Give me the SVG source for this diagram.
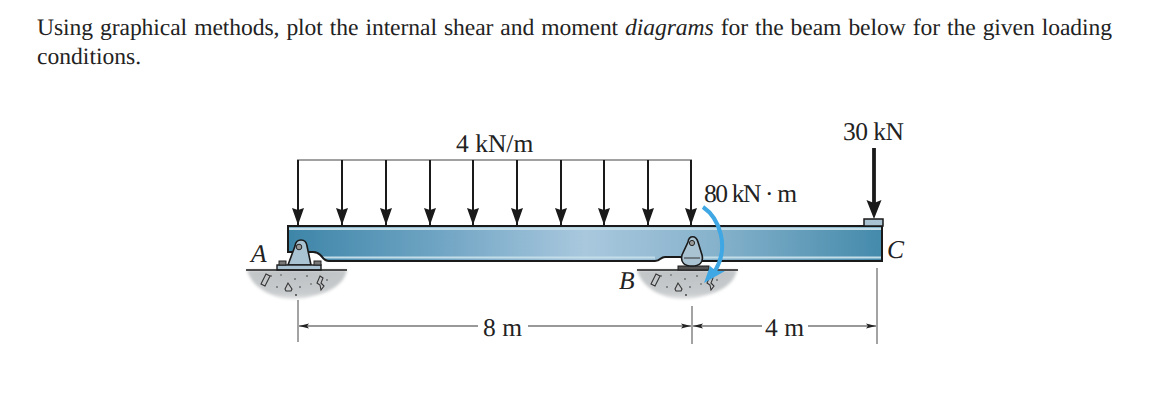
<svg xmlns="http://www.w3.org/2000/svg" width="1150" height="412" viewBox="0 0 1150 412">
<style>
text{font-family:"Liberation Serif","Times New Roman",serif;fill:#222;text-rendering:geometricPrecision}
.p{font-size:23.6px}
.l{font-size:25.5px}
.i{font-style:italic}
.load{stroke:#1a1a1a;stroke-width:2;fill:none;marker-end:url(#ah)}
.dim{stroke:#333;stroke-width:1;fill:none}
.ext{stroke:#666;stroke-width:1.2;fill:none}
.edge{stroke:#1a1a1a;stroke-width:2;fill:none}
.pin{fill:#a9c3d3;stroke:#1a1a1a;stroke-width:1.6}
.rock{fill:none;stroke:#333;stroke-width:1.1}
.dot{fill:#333}
</style>
<defs>
<marker id="ah" markerUnits="userSpaceOnUse" markerWidth="17" markerHeight="13" refX="17" refY="6.5" orient="auto"><path d="M0 .5L17 6.500L0 12.500L2 6.500Z" fill="#1a1a1a"/></marker>
<marker id="dl" markerUnits="userSpaceOnUse" markerWidth="11" markerHeight="6" refX="10" refY="3" orient="auto"><path d="M0 0.5L10 3L0 5.5L2 3Z" fill="#222"/></marker>
<linearGradient id="bm" x1="0" x2="1" y1="0" y2="0">
<stop offset="0" stop-color="#3d85a8"/><stop offset=".25" stop-color="#6fa4c3"/><stop offset=".5" stop-color="#a9c8de"/><stop offset=".72" stop-color="#86b2cb"/><stop offset="1" stop-color="#448aab"/>
</linearGradient>
<radialGradient id="gr" cx=".5" cy="0" r="1"><stop offset="0" stop-color="#bcc0c2"/><stop offset=".8" stop-color="#c8cbcd"/><stop offset="1" stop-color="#dfe1e2"/></radialGradient>
<filter id="soft" x="-10%" y="-10%" width="120%" height="130%"><feGaussianBlur stdDeviation="1.6"/></filter>
<g id="soil">
<path d="M-50 0H50C47 14 34 22 16 26C4 30-14 30-25 25C-38 20-47 11-50 0Z" fill="url(#gr)" filter="url(#soft)"/>
<path class="rock" d="M-31 4l4 2-5 10-4-2Z M-12 19l3-6 4 6-1 2h-5Z M23 6l3 2-2 5 3 3-3 4-1-5-3-2Z"/>
<circle class="dot" cx="-26" cy="6" r=".8"/><circle class="dot" cx="-20" cy="17" r=".8"/><circle class="dot" cx="-2" cy="9" r=".8"/><circle class="dot" cx="3" cy="17" r=".8"/><circle class="dot" cx="10" cy="6" r=".8"/><circle class="dot" cx="-16" cy="5" r=".7"/><circle class="dot" cx="30" cy="10" r=".8"/><circle class="dot" cx="-1" cy="25" r=".9"/><circle class="dot" cx="14" cy="14" r=".7"/>
</g>
</defs>
<rect width="1150" height="412" fill="#fff"/>
<g id="problem-text">
<text class="p" x="37" y="35" textLength="1075" lengthAdjust="spacing" word-spacing="1.2">Using graphical methods, plot the internal shear and moment <tspan class="i">diagrams</tspan> for the beam below for the given loading</text>
<text class="p" x="37" y="64">conditions.</text>
</g>
<g id="support-A-ground"><use href="#soil" x="297" y="270"/></g>
<g id="support-B-ground"><use href="#soil" x="687" y="270"/></g>
<g id="beam">
<path d="M288 226H882V261H702V257H665C660 257 661 261 655 261H329C321 261 323 252 313 252H288Z" fill="url(#bm)"/>
<rect x="289" y="227.5" width="592" height="2.5" fill="#c3dde8"/>
<path d="M322 257.5H655M702 257.5H881" stroke="#c3dde8" stroke-width="2.2"/>
<path class="edge" d="M288 253V226H882V261H702M682 257H665C660 257 661 261 655 261H329C321 261 323 252 313 252H288"/>
<rect x="864" y="219" width="19" height="7" fill="#a9c3d3" stroke="#1a1a1a" stroke-width="1.5"/>
</g>
<g id="support-A">
<path class="pin" d="M288 265L295 246C296 238 306 238 307 246L311 265Z"/>
<circle cx="299" cy="247" r="2.8" fill="#999" stroke="#222"/>
<rect x="277" y="265" width="44" height="5" fill="#a9c3d3" stroke="#1a1a1a" stroke-width="1.4"/>
<rect x="279" y="261" width="7" height="4" fill="#777" stroke="#222"/>
<rect x="314" y="261" width="7" height="4" fill="#777" stroke="#222"/>
<path d="M246 270H347" stroke="#1a1a1a" stroke-width="1.6"/>
</g>
<g id="support-B">
<path d="M637 270H738" stroke="#1a1a1a" stroke-width="1.6"/>
<rect x="678" y="266" width="31" height="4" fill="#555" stroke="#1a1a1a"/>
<path class="pin" d="M688 242C689 235 696 235 698 242L702 255C704 263 699 266 692 266C685 266 680 263 682 255Z"/>
<path d="M684 258H700" stroke="#333"/>
<circle cx="692" cy="243" r="2.6" fill="#999" stroke="#222"/>
</g>
<g id="connectors">
<path d="M297 160H692" stroke="#444" stroke-width="1.2" fill="none"/>
<path class="load" d="M298 160V225"/><path class="load" d="M342 160V225"/><path class="load" d="M386 160V225"/><path class="load" d="M430 160V225"/><path class="load" d="M473 160V225"/><path class="load" d="M517 160V225"/><path class="load" d="M561 160V225"/><path class="load" d="M604 160V225"/><path class="load" d="M648 160V225"/><path class="load" d="M691 160V225"/>
<path d="M874 148V205" stroke="#1a1a1a" stroke-width="3.8" fill="none"/>
<path d="M866.500 200L874 219L881.500 200L874 203Z" fill="#1a1a1a"/>
<path d="M703 207C719 218 730 246 715 271" stroke="#3fa7e3" stroke-width="4" fill="none"/>
<path d="M704 283L710 266L716 271L725 271Z" fill="#3fa7e3"/>
<path class="ext" d="M298 300V342"/><path class="ext" d="M692 306V344"/><path class="ext" d="M877 268V344"/>
<path class="dim" d="M478 326H299" marker-end="url(#dl)"/>
<path class="dim" d="M528 326H691" marker-end="url(#dl)"/>
<path class="dim" d="M762 326H693" marker-end="url(#dl)"/>
<path class="dim" d="M808 326H876" marker-end="url(#dl)"/>
</g>
<g id="labels">
<text class="l" x="456" y="152">4 kN/m</text>
<text class="l" x="843" y="140" textLength="61">30 kN</text>
<text class="l" x="704" y="202" textLength="93">80 kN · m</text>
<text class="l" x="483" y="336">8 m</text>
<text class="l" x="765" y="336">4 m</text>
<text class="l i" x="251" y="262">A</text>
<text class="l i" x="619" y="289">B</text>
<text class="l i" x="887" y="258">C</text>
</g>
</svg>
